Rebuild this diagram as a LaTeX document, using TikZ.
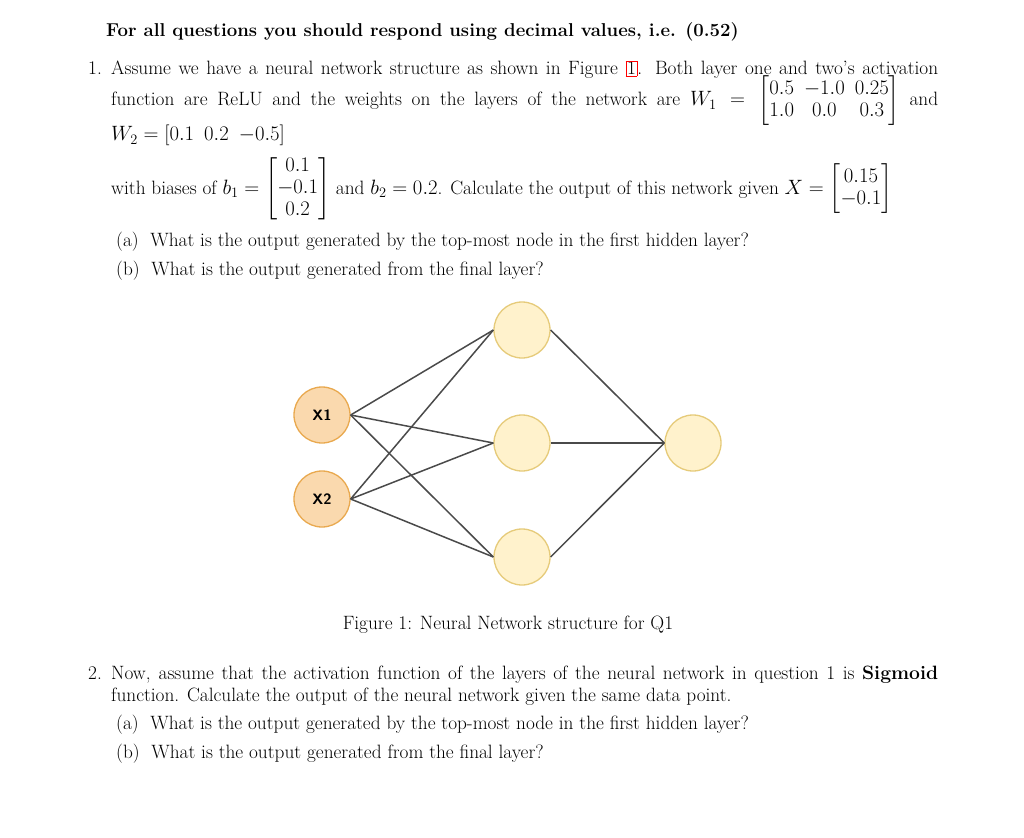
\documentclass[tikz,border=0pt]{standalone}
\usepackage{amsmath}
\usepackage{xcolor}
\begin{document}
\begin{tikzpicture}[x=1pt,y=-1pt,
  txt/.style={anchor=base west,inner sep=0pt,font=\fontsize{19.3}{22}\selectfont},
  inp/.style={circle,minimum size=56pt,inner sep=0pt,fill=inpfill,draw=inpdraw,line width=1.3pt,font=\sffamily\bfseries\fontsize{15}{17}\selectfont},
  hid/.style={circle,minimum size=56pt,inner sep=0pt,fill=hidfill,draw=hiddraw,line width=1.3pt},
  edge/.style={draw=edgec,line width=1.5pt}]
\definecolor{inpfill}{HTML}{FAD9AE}
\definecolor{inpdraw}{HTML}{E9A94F}
\definecolor{hidfill}{HTML}{FFF2CC}
\definecolor{hiddraw}{HTML}{E6CB7A}
\definecolor{edgec}{HTML}{4A4A4A}
\useasboundingbox[fill=white] (0,0) rectangle (1024,837);
\node[txt] (t0) at (106,37) {\fontsize{18.6}{21}\selectfont\textbf{For all questions you should respond using decimal values, i.e. (0.52)}};
\node[txt] (n1) at (88,75) {1.};
\node[txt] (l1) at (111,75) {\hbox to 827pt{Assume we have a neural network structure as shown in Figure {\color{red}\fboxsep=1pt\fbox{\color{black}1}}. Both layer one and two's activation}};
\node[txt] (l2) at (111,106) {\hbox to 827pt{function are ReLU and the weights on the layers of the network are $W_1 = \begin{bmatrix}0.5 & -1.0 & 0.25\\ 1.0 & 0.0 & 0.3\end{bmatrix}$ and}};
\node[txt] (l3) at (111,141) {$W_2 = \begin{bmatrix}0.1 & 0.2 & -0.5\end{bmatrix}$};
\node[txt] (l4) at (111,194) {with biases of $b_1 = \begin{bmatrix}0.1\\ -0.1\\ 0.2\end{bmatrix}$ and $b_2 = 0.2$. Calculate the output of this network given $X = \begin{bmatrix}0.15\\ -0.1\end{bmatrix}$};
\node[txt] (a1) at (116,246) {(a)\ \ What is the output generated by the top-most node in the first hidden layer?};
\node[txt] (b1) at (116,275) {(b)\ \ What is the output generated from the final layer?};
\node[inp] (x1) at (322,415) {X1};
\node[inp] (x2) at (322,499) {X2};
\node[hid] (h1) at (522,330) {};
\node[hid] (h2) at (522,443) {};
\node[hid] (h3) at (522,557) {};
\node[hid] (o) at (693,443) {};
\foreach \i in {x1,x2}{\foreach \j in {h1,h2,h3}{\draw[edge] (\i.east) -- (\j.west);}}
\foreach \j in {h1,h2,h3}{\draw[edge] (\j.east) -- (o.west);}
\node[txt,anchor=base] (cap) at (508,629) {Figure 1: Neural Network structure for Q1};
\node[txt] (n2) at (88,679) {2.};
\node[txt] (m1) at (111,679) {\hbox to 827pt{Now, assume that the activation function of the layers of the neural network in question 1 is \textbf{Sigmoid}}};
\node[txt] (m2) at (111,701) {function. Calculate the output of the neural network given the same data point.};
\node[txt] (a2) at (116,729) {(a)\ \ What is the output generated by the top-most node in the first hidden layer?};
\node[txt] (b2) at (116,758) {(b)\ \ What is the output generated from the final layer?};
\end{tikzpicture}
\end{document}
